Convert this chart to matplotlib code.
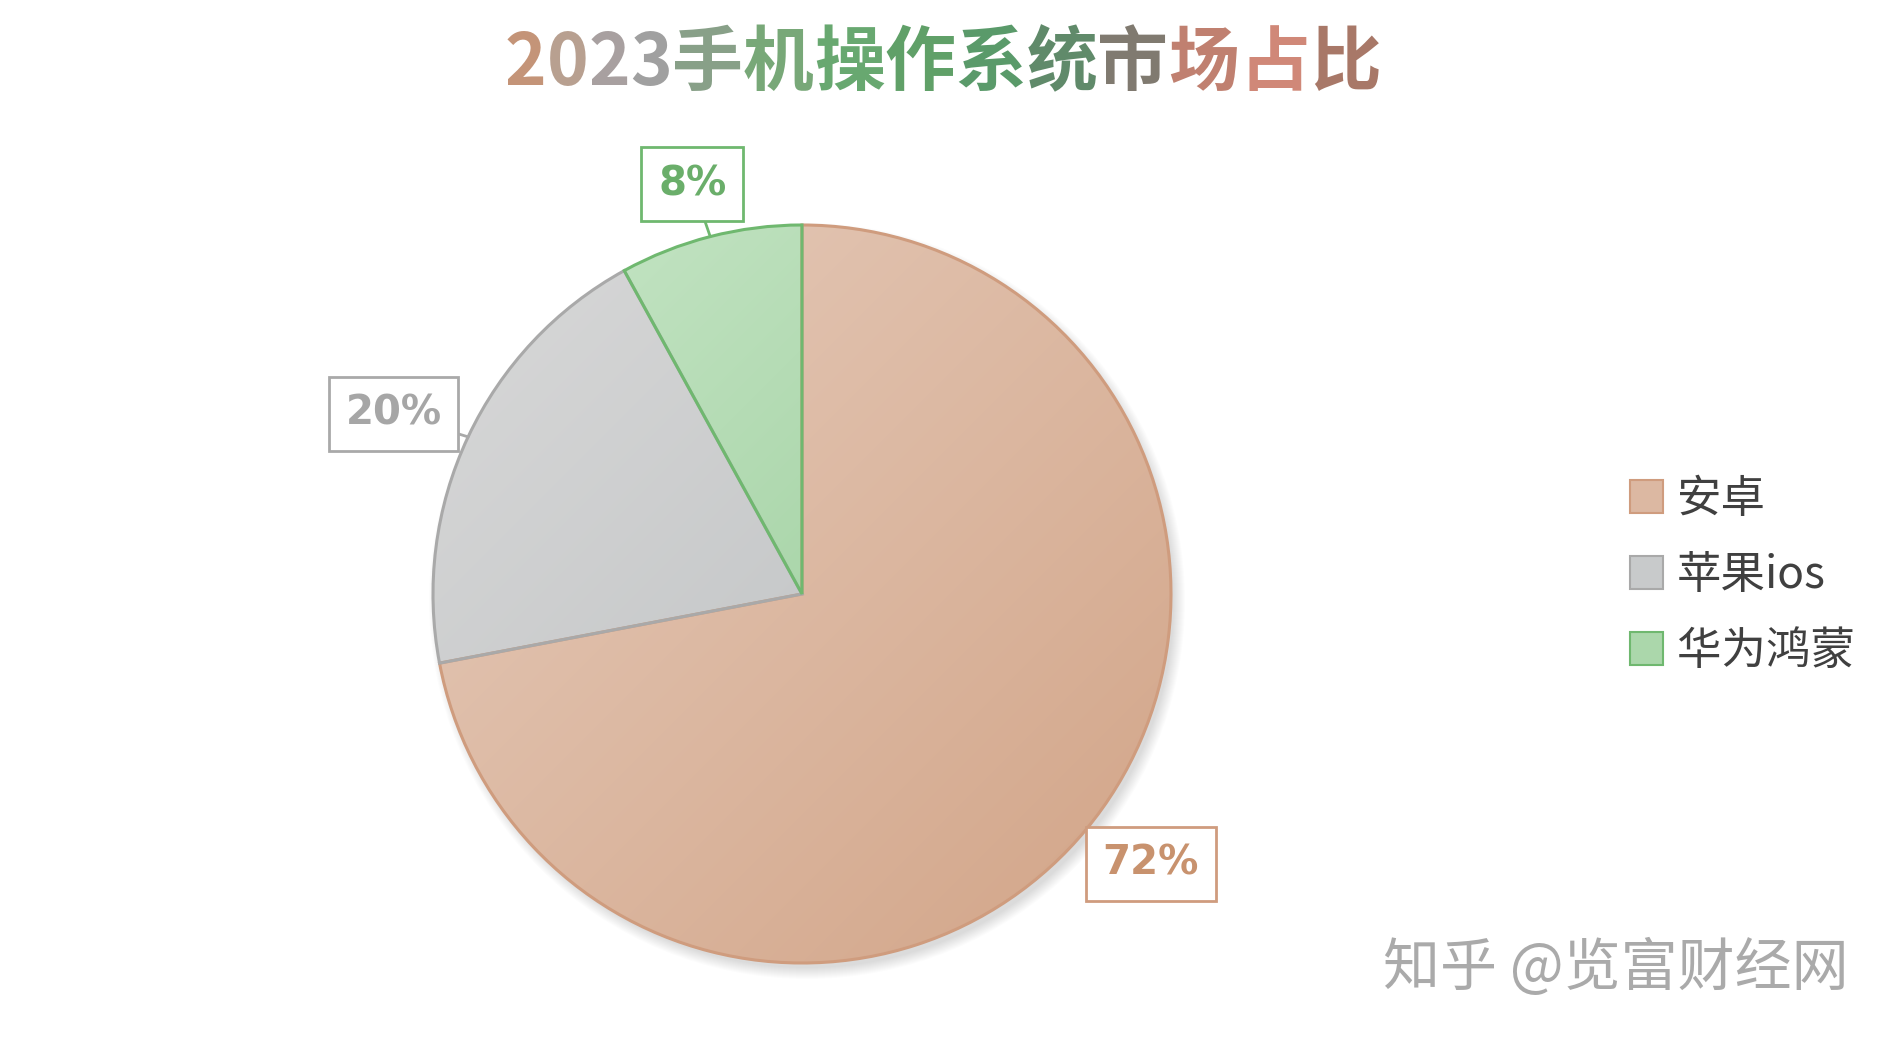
import numpy as np
import matplotlib.pyplot as plt
from matplotlib.patches import Circle, Patch
from matplotlib.colors import to_rgb

plt.rcParams['font.family'] = ['Noto Sans CJK SC', 'DejaVu Sans']

# chart data
title_chars = list('2023手机操作系统市场占比')
title_colors = ['#c49478', '#b8a090', '#a8a0a0', '#a0a0a0', '#88a088', '#78a878', '#68a870',
                '#60a068', '#5a9a6a', '#608a6a', '#807a70', '#c08070', '#d08878', '#a87868']
labels = ['安卓', '苹果ios', '华为鸿蒙']
shares = [72, 20, 8]
light = ['#e6ccbc', '#d9d9d9', '#c9e7c9']
dark = ['#d2a487', '#b6babc', '#8dc68d']
edges = ['#cf9c7e', '#a9a9a9', '#6fb86f']
text_colors = ['#c8926e', '#a6a6a6', '#6aae6a']
tails = [False, True, True]
label_dist = [1.195, 1.21, 1.15]
label_nudge = [1.9, 1.4, 0.6]   # degrees

W, H = 1893, 1047
fig = plt.figure(figsize=(W / 100, H / 100), dpi=100)
ax = fig.add_axes([0, 0, 1, 1])

cx, cy, r = 802, 453, 369

# soft shadow behind the pie
for k in range(12):
    ax.add_patch(Circle((cx + 5, cy - 7), r - 2 + k, facecolor='black',
                        edgecolor='none', alpha=0.013, zorder=1))

wedges, _ = ax.pie(shares, center=(cx, cy), radius=r, startangle=90, counterclock=False,
                   frame=True, wedgeprops=dict(facecolor='none', linewidth=2.2, zorder=3))

# diagonal gradient fill, clipped to each wedge
n = 400
ii, jj = np.mgrid[0:n, 0:n]
t = (ii + jj) / (2 * (n - 1))
for w, c0, c1, ec in zip(wedges, light, dark, edges):
    w.set_edgecolor(ec)
    img = (1 - t)[..., None] * np.array(to_rgb(c0)) + t[..., None] * np.array(to_rgb(c1))
    im = ax.imshow(img, extent=(cx - r, cx + r, cy - r, cy + r), zorder=2,
                   interpolation='bilinear')
    im.set_clip_path(w)

# percentage labels in boxes
for w, s, tc, ec, tail, d, nud in zip(wedges, shares, text_colors, edges, tails,
                                      label_dist, label_nudge):
    mid = np.deg2rad((w.theta1 + w.theta2) / 2)
    ang = mid + np.deg2rad(nud)
    lx, ly = cx + d * r * np.cos(ang), cy + d * r * np.sin(ang)
    px, py = cx + r * np.cos(mid), cy + r * np.sin(mid)
    ax.annotate(f'{s}%', xy=(px, py), xytext=(lx, ly), ha='center', va='center',
                fontsize=29, fontweight='bold', color=tc, family=['DejaVu Sans'],
                bbox=dict(boxstyle='square,pad=0.42', fc='white', ec=ec, lw=2),
                arrowprops=dict(arrowstyle='-', color=ec, lw=2, shrinkA=0, shrinkB=0) if tail else None,
                zorder=4)

ax.set_xlim(0, W)
ax.set_ylim(0, H)
ax.set_aspect('equal')
ax.axis('off')

# legend
handles = []
for c0, c1, ec in zip(light, dark, edges):
    mix = 0.5 * np.array(to_rgb(c0)) + 0.5 * np.array(to_rgb(c1))
    handles.append(Patch(facecolor=mix, edgecolor=ec, lw=1.5))
fig.legend(handles, labels, loc='center left', bbox_to_anchor=(1590 / W, 1 - 575 / H),
           frameon=False, fontsize=32, handlelength=0.75, handleheight=0.75,
           handletextpad=0.3, labelspacing=0.68, labelcolor='#404040')

# title, one colour per character
prev = ax.text(505, H - 64, title_chars[0], fontsize=51, fontweight='bold',
               color=title_colors[0], ha='left', va='center')
for ch, col in zip(title_chars[1:], title_colors[1:]):
    prev = ax.annotate(ch, xy=(1, 0), xycoords=prev, ha='left', va='bottom',
                       fontsize=51, fontweight='bold', color=col, annotation_clip=False)

# watermark
ax.text(1383, H - 969, '知乎 @览富财经网', fontsize=41, color='#aaaaaa', va='center')

fig.savefig('out.png', dpi=100)
